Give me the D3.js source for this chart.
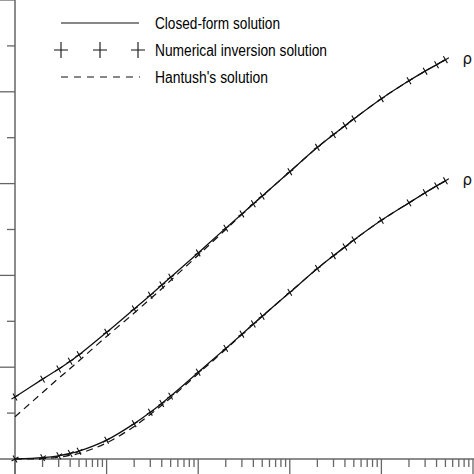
<!DOCTYPE html>
<html><head><meta charset="utf-8">
<script src="https://cdn.jsdelivr.net/npm/d3@7"></script>
<style>html,body{margin:0;padding:0;background:#fff;}svg{display:block;}</style>
</head><body>
<svg id="chart" width="474" height="474"></svg>
<script>
// ---- data ----
const times = [0.001,0.002,0.003,0.004,0.005,0.01,0.02,0.03,0.04,0.05,0.1,0.2,0.3,0.4,0.5,1,2,3,4,5,10,20,30,40,50];
const closedUpper = [0.135,0.174,0.196,0.213,0.227,0.276,0.327,0.357,0.379,0.396,0.449,0.503,0.534,0.556,0.573,0.626,0.679,0.707,0.726,0.741,0.785,0.824,0.845,0.859,0.870];
const closedLower = [0.0,0.003,0.007,0.012,0.017,0.041,0.077,0.102,0.121,0.137,0.189,0.241,0.272,0.294,0.311,0.363,0.415,0.443,0.462,0.477,0.520,0.558,0.580,0.595,0.606];
const numericUpper = [0.135,0.174,0.196,0.213,0.227,0.276,0.327,0.357,0.379,0.396,0.449,0.503,0.534,0.556,0.573,0.626,0.679,0.707,0.726,0.741,0.785,0.824,0.845,0.859,0.870];
const numericLower = [0.0,0.003,0.007,0.012,0.017,0.041,0.077,0.102,0.121,0.137,0.189,0.241,0.272,0.294,0.311,0.363,0.415,0.443,0.462,0.477,0.520,0.558,0.580,0.595,0.606];
const hantushUpper = [0.092,0.145,0.176,0.197,0.214,0.267,0.318,0.349,0.371,0.389,0.444,0.500,0.533,0.556,0.573,0.626,0.679,0.707,0.726,0.741,0.785,0.824,0.845,0.859,0.870];
const hantushLower = [0.0,0.001,0.004,0.008,0.012,0.035,0.071,0.097,0.117,0.133,0.186,0.239,0.271,0.294,0.311,0.363,0.415,0.443,0.462,0.477,0.520,0.558,0.580,0.595,0.606];
const curveLabels = ["ρ","ρ"];
const legendLabels = ["Closed-form solution","Numerical inversion solution","Hantush's solution"];
const xDomain = [0.001, 100];
const yDomain = [0, 1];
const yMajorTicks = [0.2,0.4,0.6,0.8,1.0];
const yMinorTicks = [0.1,0.3,0.5,0.7,0.9];

// ---- layout ----
const svg = d3.select("#chart");
const x = d3.scaleLog().domain(xDomain).range([15, 473]);
const y = d3.scaleLinear().domain(yDomain).range([459, 0]);
const ink = "#111", axisInk = "#666";

// axes lines
svg.append("line").attr("x1",15).attr("x2",15).attr("y1",0).attr("y2",474)
  .attr("stroke",axisInk).attr("stroke-width",1.5);
svg.append("line").attr("x1",0).attr("x2",474).attr("y1",y(0)).attr("y2",y(0))
  .attr("stroke",axisInk).attr("stroke-width",1.5);

// x ticks (log)
const xt = [];
for (let e=-3; e<=2; e++) for (let m=1; m<=9; m++) { const v = m*Math.pow(10,e); if (v<=100.0001) xt.push({v, major:m===1}); }
svg.append("g").selectAll("line").data(xt).join("line")
  .attr("x1",d=>x(d.v)).attr("x2",d=>x(d.v))
  .attr("y1",y(0)).attr("y2",d=>y(0)+(d.major?16:8))
  .attr("stroke",axisInk).attr("stroke-width",1.3);

// y ticks
svg.append("g").selectAll("line").data(yMajorTicks).join("line")
  .attr("x1",0).attr("x2",15).attr("y1",d=>y(d)).attr("y2",d=>y(d))
  .attr("stroke",axisInk).attr("stroke-width",1.3);
svg.append("g").selectAll("line").data(yMinorTicks).join("line")
  .attr("x1",7).attr("x2",15).attr("y1",d=>y(d)).attr("y2",d=>y(d))
  .attr("stroke",axisInk).attr("stroke-width",1.3);

// lines
const mk = arr => times.map((t,i)=>[t,arr[i]]);
const line = d3.line().x(d=>x(d[0])).y(d=>y(d[1])).curve(d3.curveCatmullRom.alpha(0.5));

[hantushUpper, hantushLower].forEach(a=>{
  svg.append("path").attr("d",line(mk(a))).attr("fill","none")
    .attr("stroke",ink).attr("stroke-width",1.2).attr("stroke-dasharray","7,5");
});
[closedUpper, closedLower].forEach(a=>{
  svg.append("path").attr("d",line(mk(a))).attr("fill","none")
    .attr("stroke",ink).attr("stroke-width",1.3);
});

// markers
function crossPath(s){ return `M${-s},0H${s}M0,${-s}V${s}`; }
[numericUpper, numericLower].forEach(a=>{
  svg.append("g").selectAll("path").data(mk(a)).join("path")
    .attr("d",crossPath(4))
    .attr("transform",d=>`translate(${x(d[0])},${y(d[1])}) rotate(-30)`)
    .attr("stroke",ink).attr("stroke-width",1.1).attr("fill","none");
});

// curve labels
const ends = [closedUpper, closedLower];
svg.append("g").selectAll("text").data(curveLabels).join("text")
  .attr("x", x(times[times.length-1]) + 17)
  .attr("y", (d,i)=> y(ends[i][ends[i].length-1]) + 4)
  .attr("font-family","'DejaVu Sans', sans-serif").attr("font-size",15).attr("fill",ink)
  .text(d=>d);

// legend
const lg = svg.append("g");
const font = "'Liberation Sans Narrow','Liberation Sans',Arial,sans-serif";
const rowsY = [23, 50, 77];
const textW = [125, 172, 113];
lg.append("line").attr("x1",61).attr("x2",139).attr("y1",rowsY[0]).attr("y2",rowsY[0])
  .attr("stroke",ink).attr("stroke-width",1.1);
[61,100,138].forEach(px=>{
  lg.append("path").attr("d",`M-7,0H7M0,-8V8`).attr("transform",`translate(${px},${rowsY[1]})`)
    .attr("stroke",ink).attr("stroke-width",1.1).attr("fill","none");
});
lg.append("line").attr("x1",61).attr("x2",140).attr("y1",rowsY[2]).attr("y2",rowsY[2])
  .attr("stroke",ink).attr("stroke-width",1.1).attr("stroke-dasharray","7,6");
lg.selectAll("text").data(legendLabels).join("text")
  .attr("x",155).attr("y",(d,i)=>rowsY[i]+6)
  .attr("font-family",font).attr("font-size",16).attr("fill","#000")
  .attr("textLength",(d,i)=>textW[i]).attr("lengthAdjust","spacingAndGlyphs")
  .text(d=>d);
</script>
</body></html>
